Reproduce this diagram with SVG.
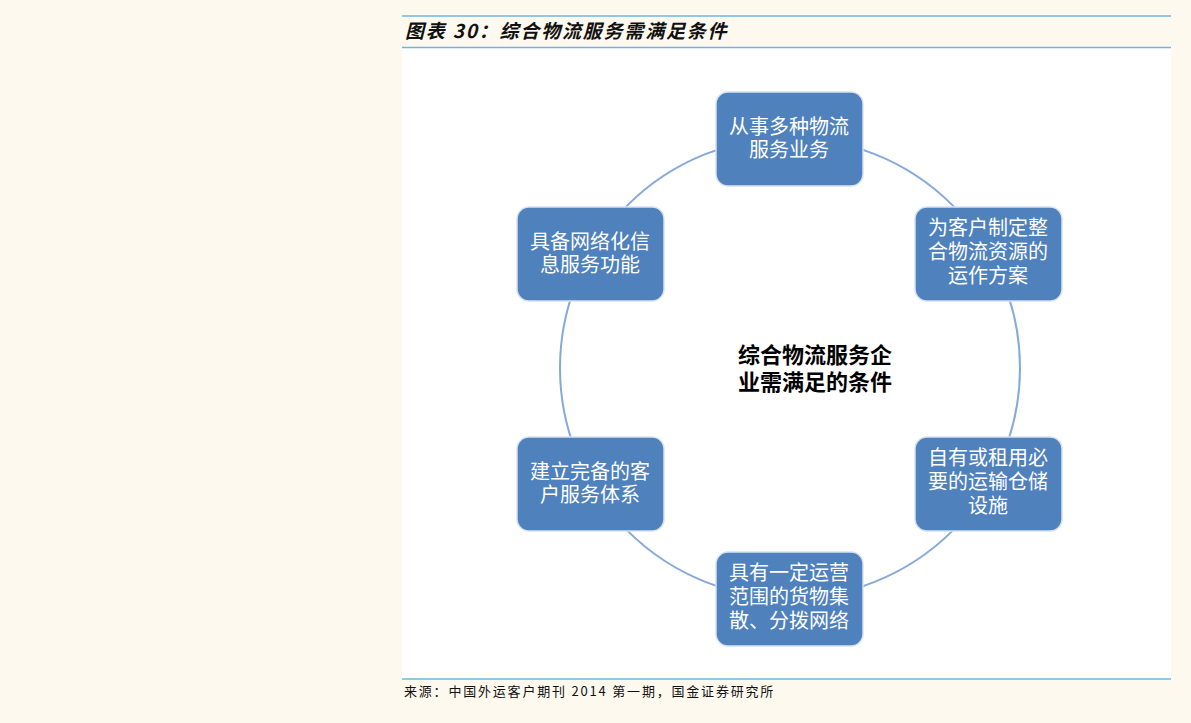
<svg xmlns="http://www.w3.org/2000/svg" width="1191" height="723" viewBox="0 0 1191 723">
<defs>
<style>
.node rect{fill:#4F81BD;stroke:#D6E2F0;stroke-width:1.5}
.node text{fill:#FFFFFF;font-family:"Noto Sans CJK SC","Liberation Sans",sans-serif;font-size:20px;text-anchor:middle}
.rule{stroke:#6CB6DE;stroke-width:1.5}
</style>
</defs>
<rect x="0" y="0" width="1191" height="723" fill="#FEF9EE"/>
<rect x="402" y="48" width="769" height="631" fill="#FFFFFF"/>
<line class="rule" x1="402" y1="16" x2="1171" y2="16"/>
<line class="rule" x1="402" y1="47.5" x2="1171" y2="47.5"/>
<line class="rule" x1="402" y1="679" x2="1171" y2="679"/>
<text x="405" y="38" font-family="Noto Sans CJK SC,Liberation Sans,sans-serif" font-size="19" font-weight="bold" font-style="italic" letter-spacing="1.8" fill="#111">图表 30：综合物流服务需满足条件</text>
<text x="404" y="696" font-family="Noto Sans CJK SC,Liberation Sans,sans-serif" font-size="13" letter-spacing="1.8" fill="#111">来源：中国外运客户期刊 2014 第一期，国金证券研究所</text>
<g id="connectors">
<circle cx="790" cy="368" r="230" fill="none" stroke="#86A9DA" stroke-width="2"/>
</g>
<g id="center">
<text x="815" y="363" font-family="Noto Sans CJK SC,Liberation Sans,sans-serif" font-size="22" font-weight="bold" fill="#000" text-anchor="middle"><tspan x="815">综合物流服务企</tspan><tspan x="815" dy="27">业需满足的条件</tspan></text>
</g>
<g id="n1" class="node">
<rect x="716" y="92" width="147" height="94" rx="12"/>
<text x="789" y="134"><tspan x="789">从事多种物流</tspan><tspan x="789" dy="23">服务业务</tspan></text>
</g>
<g id="n2" class="node">
<rect x="915" y="207" width="147" height="94" rx="12"/>
<text x="988" y="235"><tspan x="988">为客户制定整</tspan><tspan x="988" dy="24">合物流资源的</tspan><tspan x="988" dy="24">运作方案</tspan></text>
</g>
<g id="n3" class="node">
<rect x="915" y="437" width="147" height="94" rx="12"/>
<text x="988" y="465"><tspan x="988">自有或租用必</tspan><tspan x="988" dy="24">要的运输仓储</tspan><tspan x="988" dy="24">设施</tspan></text>
</g>
<g id="n4" class="node">
<rect x="716" y="552" width="147" height="94" rx="12"/>
<text x="789" y="580"><tspan x="789">具有一定运营</tspan><tspan x="789" dy="24">范围的货物集</tspan><tspan x="789" dy="24">散、分拨网络</tspan></text>
</g>
<g id="n5" class="node">
<rect x="517" y="437" width="147" height="94" rx="12"/>
<text x="590" y="479"><tspan x="590">建立完备的客</tspan><tspan x="590" dy="23">户服务体系</tspan></text>
</g>
<g id="n6" class="node">
<rect x="517" y="207" width="147" height="94" rx="12"/>
<text x="590" y="249"><tspan x="590">具备网络化信</tspan><tspan x="590" dy="23">息服务功能</tspan></text>
</g>
</svg>
